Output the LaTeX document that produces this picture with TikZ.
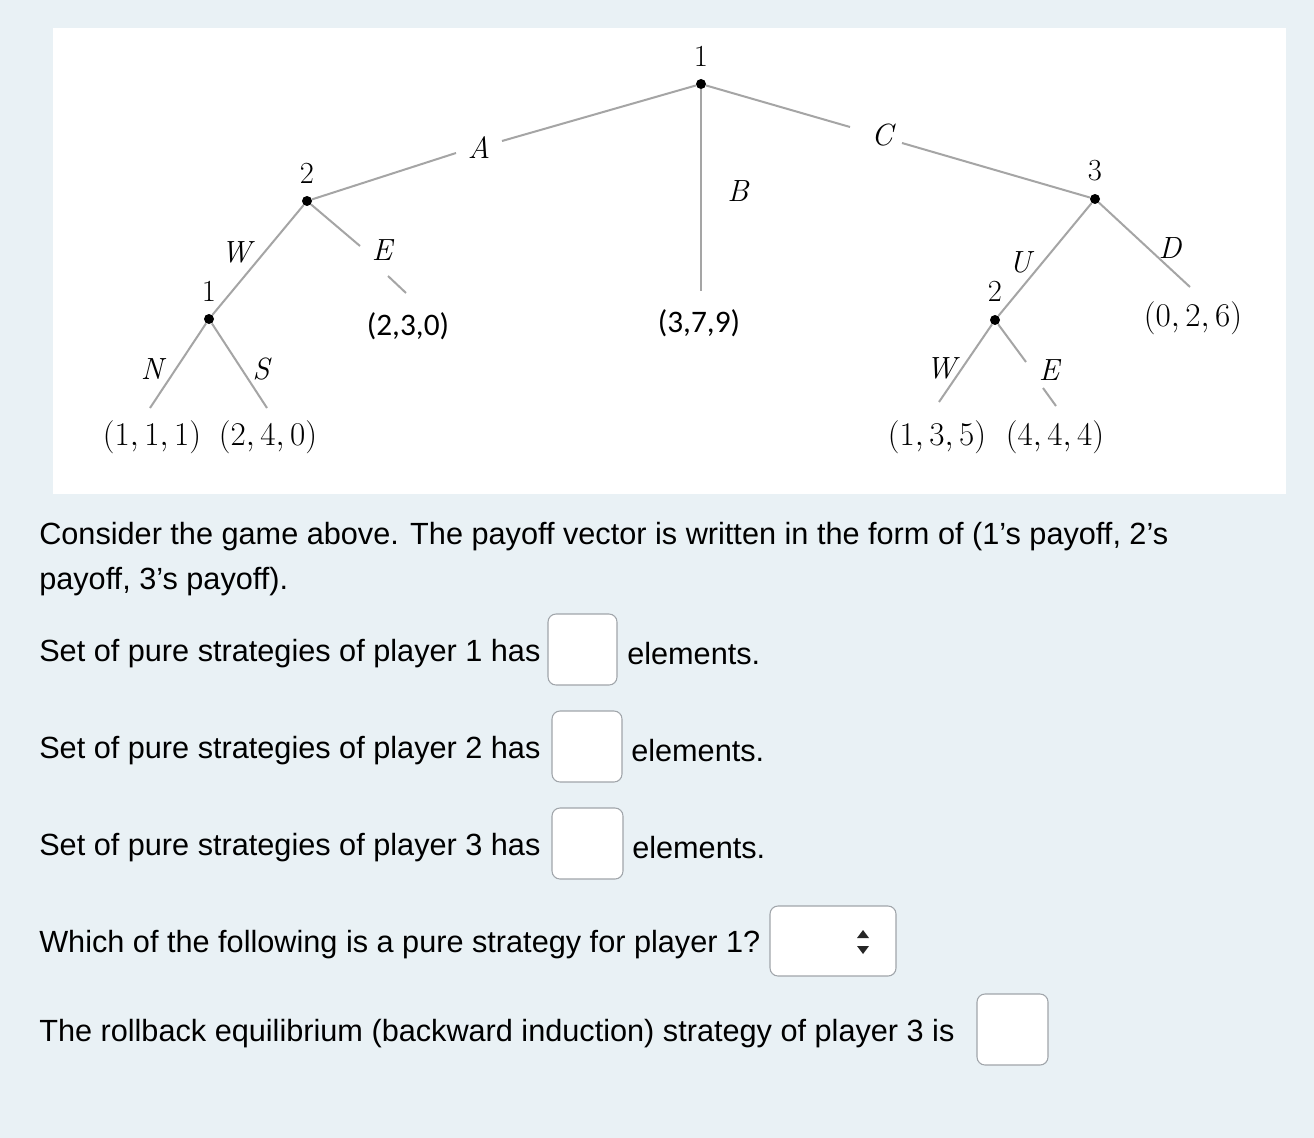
\documentclass[tikz,border=0pt]{standalone}
\usepackage{fontspec}
\setmainfont{Latin Modern Roman}
\newfontfamily\qfont{Liberation Sans}
\newfontfamily\cfont{Carlito}
\definecolor{bg}{RGB}{233,241,245}
\definecolor{edge}{RGB}{165,165,165}
\definecolor{boxb}{RGB}{160,165,170}
\begin{document}
\begin{tikzpicture}[x=0.75pt,y=-0.75pt,
  br/.style={draw=edge,line width=1.5pt},
  dotn/.style={circle,fill=black,inner sep=0pt,minimum size=7.5pt},
  lbl/.style={font=\fontsize{23}{26}\selectfont},
  mlbl/.style={font=\fontsize{23}{26}\selectfont\itshape},
  pay/.style={font=\fontsize{24}{28}\selectfont},
  cpay/.style={font=\cfont\fontsize{23.5}{28}\selectfont},
  qt/.style={font=\qfont\fontsize{23}{27}\selectfont,anchor=west,inner sep=0pt,yshift=-2pt},
  ansbox/.style={draw=boxb,line width=0.8pt,fill=white,rounded corners=6pt}]
\fill[bg] (0,0) rectangle (1314,1138);
\useasboundingbox (0,0) rectangle (1314,1138);
\fill[white] (53,28) rectangle (1286,494);
% nodes
\node[dotn] (r) at (701,84) {};
\node[lbl] (rl) at (701,56) {1};
\node[dotn] (a) at (307,201) {};
\node[lbl] (al) at (307,173) {2};
\node[dotn] (aw) at (209,319) {};
\node[lbl] (awl) at (209,291) {1};
\node[dotn] (c) at (1095,199) {};
\node[lbl] (cl) at (1095,171) {3};
\node[dotn] (cu) at (995,320) {};
\node[lbl] (cul) at (995,291) {2};
% ends
\coordinate (n1) at (150,408);
\coordinate (s1) at (267,408);
\coordinate (e1a) at (360,246);
\coordinate (e1b) at (388,276);
\coordinate (e1c) at (406,293);
\coordinate (b1) at (701,291);
\coordinate (aA) at (456,153);
\coordinate (aB) at (502,141);
\coordinate (cA) at (850,127);
\coordinate (cB) at (902,143);
\coordinate (d1) at (1190,287);
\coordinate (w2) at (939,402);
\coordinate (e2a) at (1026,362);
\coordinate (e2b) at (1043,388);
\coordinate (e2c) at (1056,406);
% edges
\draw[br] (r) -- (aB); \draw[br] (aA) -- (a);
\draw[br] (r) -- (b1);
\draw[br] (r) -- (cA); \draw[br] (cB) -- (c);
\draw[br] (a) -- (aw);
\draw[br] (a) -- (e1a); \draw[br] (e1b) -- (e1c);
\draw[br] (aw) -- (n1); \draw[br] (aw) -- (s1);
\draw[br] (c) -- (cu); \draw[br] (c) -- (d1);
\draw[br] (cu) -- (w2); \draw[br] (cu) -- (e2a); \draw[br] (e2b) -- (e2c);
% move labels
\node[mlbl] (lA) at (479,148) {A};
\node[mlbl] (lB) at (738,191) {B};
\node[mlbl] (lC) at (882,135) {C};
\node[mlbl] (lW) at (236,252) {W};
\node[mlbl] (lE) at (382,250) {E};
\node[mlbl] (lN) at (152,369) {N};
\node[mlbl] (lS) at (261,369) {S};
\node[mlbl] (lU) at (1020,262) {U};
\node[mlbl] (lD) at (1170,248) {D};
\node[mlbl] (lW2) at (941,368) {W};
\node[mlbl] (lE2) at (1049,370) {E};
% payoffs
\node[pay] (p1) at (152,437) {$(1,1,1)$};
\node[pay] (p2) at (268,437) {$(2,4,0)$};
\node[cpay] (p3) at (408,326) {(2,3,0)};
\node[cpay] (p4) at (699,323) {(3,7,9)};
\node[pay] (p5) at (1193,318) {$(0,2,6)$};
\node[pay] (p6) at (937,437) {$(1,3,5)$};
\node[pay] (p7) at (1055,437) {$(4,4,4)$};
% question
\node[qt] (q1) at (39,534) {Consider the game above. The payoff vector is written in the form of (1’s payoff, 2’s};
\node[qt] (q2) at (39,579) {payoff, 3’s payoff).};
\node[qt] (q3) at (39,651) {Set of pure strategies of player 1 has};
\draw[ansbox] (548,614) rectangle (617,685);
\node[qt] (q3e) at (627,651) {elements.};
\node[qt] (q4) at (39,748) {Set of pure strategies of player 2 has};
\draw[ansbox] (552,711) rectangle (622,782);
\node[qt] (q4e) at (631,748) {elements.};
\node[qt] (q5) at (39,845) {Set of pure strategies of player 3 has};
\draw[ansbox] (552,808) rectangle (623,879);
\node[qt] (q5e) at (632,845) {elements.};
\node[qt] (q6) at (39,942) {Which of the following is a pure strategy for player 1?};
\draw[ansbox] (770,906) rectangle (896,976);
\fill[black!85] (857,938) -- (869,938) -- (863,930) -- cycle;
\fill[black!85] (857,946) -- (869,946) -- (863,954) -- cycle;
\node[qt] (q7) at (39,1031) {The rollback equilibrium (backward induction) strategy of player 3 is};
\draw[ansbox] (977,994) rectangle (1048,1065);
\end{tikzpicture}
\end{document}
